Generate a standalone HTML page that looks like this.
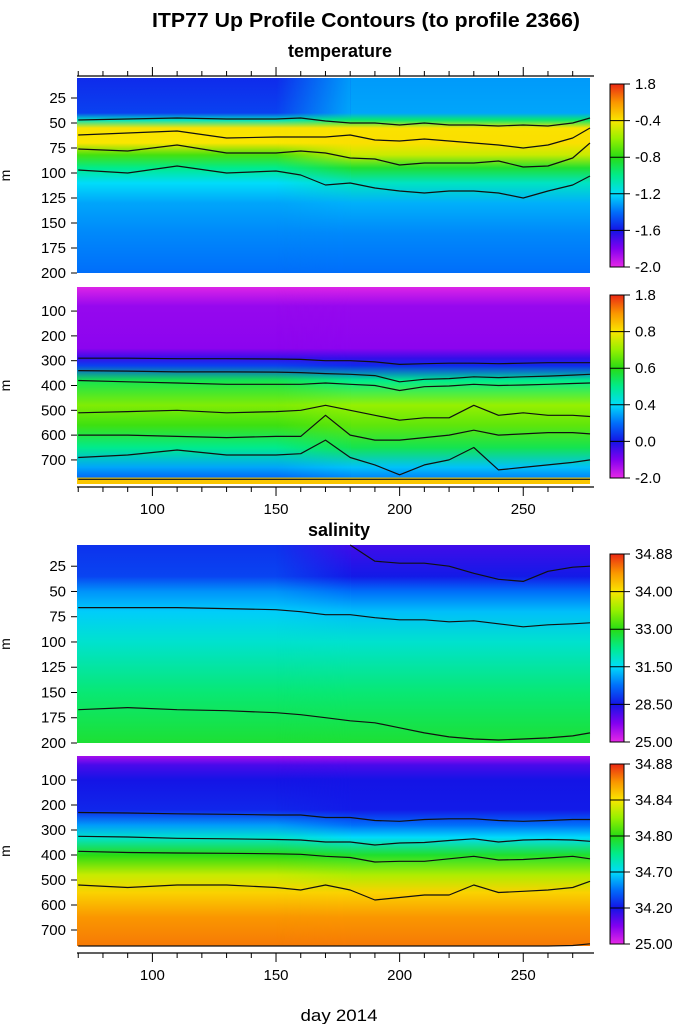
<!DOCTYPE html>
<html><head><meta charset="utf-8"><style>
body{margin:0;background:#fff;}
svg{display:block;font-family:"Liberation Sans",sans-serif;}
</style></head><body>
<svg id="chart" width="698" height="1024" viewBox="0 0 698 1024">
<text x="366" y="27" text-anchor="middle" font-size="20" font-weight="bold" textLength="428" lengthAdjust="spacingAndGlyphs">ITP77 Up Profile Contours (to profile 2366)</text>
<text x="340" y="57" text-anchor="middle" font-size="18" font-weight="bold" textLength="104" lengthAdjust="spacingAndGlyphs">temperature</text>
<text x="339" y="536" text-anchor="middle" font-size="18" font-weight="bold">salinity</text>
<text x="339" y="1021" text-anchor="middle" font-size="17" textLength="77" lengthAdjust="spacingAndGlyphs">day 2014</text>
<defs id="defs">
<linearGradient id="blendGrad" x1="0" y1="0" x2="1" y2="0">
<stop offset="0" stop-color="#fff" stop-opacity="0"/>
<stop offset="1" stop-color="#fff" stop-opacity="1"/>
</linearGradient>
</defs>
<g id="plot"></g>
</svg>
<script>
// ---- data ----
const contourDays = [70,90,110,130,150,160,170,180,190,200,210,220,230,240,250,260,270,277];
const dayTicksMajor = [100,150,200,250];
const cbT1 = [1.8,-0.4,-0.8,-1.2,-1.6,-2.0];
const cbT2 = [1.8,0.8,0.6,0.4,0.0,-2.0];
const cbS1 = [34.88,34.00,33.00,31.50,28.50,25.00];
const cbS2 = [34.88,34.84,34.80,34.70,34.20,25.00];
const p1Depths = [5,40,47,55,70,82,95,110,130,160,200];
const p1Early  = [-1.55,-1.5,-1.1,-0.35,-0.4,-0.75,-1.0,-1.2,-1.3,-1.35,-1.4];
const p1Late   = [-1.32,-1.3,-0.95,-0.35,-0.3,-0.5,-0.85,-1.1,-1.28,-1.35,-1.4];
const p2Depths = [3,80,250,290,320,380,480,560,650,730,768,775,797];
const p2Early  = [-1.9,-1.2,-1.1,-0.3,0.1,0.55,0.68,0.62,0.5,0.3,0.2,1.0,1.0];
const p2Late   = [-1.9,-1.2,-1.1,-0.3,0.05,0.5,0.7,0.65,0.55,0.35,0.25,1.0,1.0];
const p3Depths = [4,35,50,70,100,150,200];
const p3Early  = [29.0,29.3,30.5,31.3,31.8,32.4,32.8];
const p3Late   = [27.8,28.6,30.0,31.1,31.8,32.4,32.8];
const p4Depths = [4,40,100,220,280,330,400,480,550,650,760];
const p4Early  = [28,32,34.2,34.25,34.55,34.72,34.80,34.83,34.845,34.86,34.865];
const p4Late   = [28,32,34.2,34.22,34.45,34.70,34.79,34.825,34.845,34.86,34.865];
const c1a=[47,46,45,46,46,45,48,50,50,52,50,52,52,53,52,53,50,45];
const c1b=[62,60,58,65,64,64,64,62,67,68,66,68,70,72,75,72,65,55];
const c1c=[76,78,72,80,80,78,80,85,86,92,90,90,90,88,94,93,85,70];
const c1d=[97,100,93,100,98,102,112,110,115,118,120,118,118,120,125,118,112,103];
const c2a=[290,290,292,292,293,295,300,300,305,315,312,310,310,312,310,308,308,308];
const c2b=[340,342,345,345,346,348,352,355,360,385,375,372,365,368,365,362,358,355];
const c2c=[380,385,390,395,395,395,390,395,400,420,405,402,395,400,398,395,392,390];
const c2d=[510,505,500,510,505,500,480,500,520,540,530,530,480,520,510,520,520,525];
const c2e=[600,600,605,610,605,605,520,600,620,620,610,600,580,600,595,590,590,595];
const c2f=[690,680,660,680,680,675,620,690,720,760,720,700,650,740,730,720,710,700];
const c2g=[778,778,778,778,778,778,778,778,778,778,778,778,778,778,778,778,778,778];
const c3a=[66,66,66,67,68,70,73,73,76,78,78,80,79,82,85,83,82,81];
const c3b=[167,165,167,168,170,172,175,178,180,185,190,194,196,197,196,195,193,190];
const c3c=[null,null,null,null,null,null,null,4,20,22,22,25,32,38,40,30,26,25];
const c4a=[230,232,235,237,240,240,250,250,262,265,258,255,255,262,265,262,258,258];
const c4b=[325,328,333,335,338,340,348,348,360,352,350,342,335,348,340,338,340,345];
const c4c=[385,390,392,393,395,397,405,410,428,425,425,415,405,420,418,412,405,415];
const c4d=[520,530,520,520,530,540,520,540,580,570,560,560,520,550,545,540,530,505];
const c4e=[765,765,765,765,765,765,765,765,765,765,768,770,766,768,766,766,762,755];

// ---- helpers ----
const NS="http://www.w3.org/2000/svg";
const plot=document.getElementById('plot'), defs=document.getElementById('defs');
const X0=77, X1=590, D0=69.5, D1=277;
const xs=d=>X0+(d-D0)*(X1-X0)/(D1-D0);
function mk(tag,attrs,parent){const e=document.createElementNS(NS,tag);for(const k in attrs)e.setAttribute(k,attrs[k]);(parent||plot).appendChild(e);return e;}
const stops=[[0,[230,40,230]],[0.1,[130,0,240]],[0.2,[20,20,230]],[0.3,[0,110,250]],[0.4,[0,220,250]],[0.5,[0,235,140]],[0.6,[40,220,20]],[0.7,[150,240,0]],[0.8,[250,230,0]],[0.9,[250,150,0]],[1,[235,40,20]]];
function cmap(t){t=Math.max(0,Math.min(1,t));for(let i=1;i<stops.length;i++){if(t<=stops[i][0]){const a=stops[i-1],b=stops[i],f=(t-a[0])/(b[0]-a[0]);return 'rgb('+a[1].map((v,j)=>Math.round(v+(b[1][j]-v)*f)).join(',')+')';}}return 'rgb(235,40,20)';}
function vt(v,labels){const L=labels.slice().reverse();for(let i=1;i<L.length;i++){if(v<=L[i]){return ((i-1)+(v-L[i-1])/(L[i]-L[i-1]))/(L.length-1);}}return 1;}

// blend mask for late section
const mask=mk('mask',{id:'lateMask',maskUnits:'userSpaceOnUse',x:0,y:0,width:698,height:1024},defs);
mk('rect',{x:xs(150),y:0,width:xs(180)-xs(150),height:1024,fill:'url(#blendGrad)'},mask);
mk('rect',{x:xs(180),y:0,width:X1-xs(180),height:1024,fill:'#fff'},mask);

const panels=[
 {id:'temp-upper',top:78,bot:273,dA:5,dB:200,ticks:[25,50,75,100,125,150,175,200],depths:p1Depths,early:p1Early,late:p1Late,cb:cbT1,cbTop:84,cbBot:267,cont:[c1a,c1b,c1c,c1d]},
 {id:'temp-deep',top:287,bot:484,dA:3,dB:797,ticks:[100,200,300,400,500,600,700],depths:p2Depths,early:p2Early,late:p2Late,cb:cbT2,cbTop:295,cbBot:478,cont:[c2a,c2b,c2c,c2d,c2e,c2f,c2g]},
 {id:'sal-upper',top:545,bot:743,dA:4,dB:200,ticks:[25,50,75,100,125,150,175,200],depths:p3Depths,early:p3Early,late:p3Late,cb:cbS1,cbTop:554,cbBot:742,cont:[c3a,c3b,c3c]},
 {id:'sal-deep',top:756,bot:946,dA:4,dB:764,ticks:[100,200,300,400,500,600,700],depths:p4Depths,early:p4Early,late:p4Late,cb:cbS2,cbTop:764,cbBot:944,cont:[c4a,c4b,c4c,c4d,c4e]}
];

panels.forEach((p,pi)=>{
 const ys=d=>p.top+(d-p.dA)*(p.bot-p.top)/(p.dB-p.dA);
 const g=mk('g',{});
 
 
 ['early','late'].forEach(k=>{
  const lg=mk('linearGradient',{id:p.id+k,x1:0,y1:p.top,x2:0,y2:p.bot,gradientUnits:'userSpaceOnUse'},defs);
  p.depths.forEach((d,i)=>{mk('stop',{offset:Math.max(0,Math.min(1,(d-p.dA)/(p.dB-p.dA))),'stop-color':cmap(vt(p[k][i],p.cb))},lg);});
 });
 const r1=mk('rect',{x:X0,y:p.top,width:X1-X0,height:p.bot-p.top,fill:'url(#'+p.id+'early)'},g);
 
 
 const r2=mk('rect',{x:X0,y:p.top,width:X1-X0,height:p.bot-p.top,fill:'url(#'+p.id+'late)',mask:'url(#lateMask)'},g);
 
 
 p.cont.forEach((arr,ci)=>{
  const pts=[];arr.forEach((d,i)=>{if(d!==null)pts.push(xs(contourDays[i]).toFixed(1)+','+Math.min(p.bot,ys(d)).toFixed(1));});
  const pl=mk('polyline',{points:pts.join(' '),fill:'none',stroke:'#111','stroke-width':1.2,'stroke-linejoin':'round'},g);
  
  
 });
 p.ticks.forEach(t=>{
  const y=ys(t);
  mk('line',{x1:X0-6,y1:y,x2:X0,y2:y,stroke:'#000'},g);
  const tx=mk('text',{x:X0-11,y:y+5,'text-anchor':'end','font-size':15},g);
  tx.textContent=t;
  
  
 });
 const m=mk('text',{x:0,y:0,'font-size':14,transform:'translate(10,'+((p.top+p.bot)/2)+') rotate(-90)','text-anchor':'middle'},g);
 m.textContent='m';
 
 
 const cg=mk('linearGradient',{id:p.id+'cb',x1:0,y1:1,x2:0,y2:0},defs);
 for(let i=0;i<=10;i++)mk('stop',{offset:i/10,'stop-color':cmap(i/10)},cg);
 const cb=mk('rect',{x:610,y:p.cbTop,width:14,height:p.cbBot-p.cbTop,fill:'url(#'+p.id+'cb)',stroke:'#000','stroke-width':1},g);
 
 
 p.cb.forEach((v,i)=>{
  const y=p.cbTop+i*(p.cbBot-p.cbTop)/(p.cb.length-1);
  mk('line',{x1:610,y1:y,x2:630,y2:y,stroke:'#000'},g);
  const tx=mk('text',{x:635,y:y+5,'font-size':15},g);
  tx.textContent=(pi>=2?v.toFixed(2):v.toFixed(1));
  
  
 });
});

function xAxis(y,dir,labels,name){
 const g=mk('g',{});
 
 
 mk('line',{x1:X0,y1:y,x2:X1+4,y2:y,stroke:'#000','stroke-width':1.2},g);
 for(let d=70;d<=270;d+=10){const big=d%50===0;mk('line',{x1:xs(d),y1:y,x2:xs(d),y2:y+dir*(big?9:5),stroke:'#000'},g);}
 if(labels)dayTicksMajor.forEach(d=>{const t=mk('text',{x:xs(d),y:y+27,'text-anchor':'middle','font-size':15},g);t.textContent=d;
  
  });
}
xAxis(76,-1,false,'top-axis-temperature');
xAxis(487,1,true,'x-axis-temperature');
xAxis(953,1,true,'x-axis-salinity');
</script>
</body></html>
